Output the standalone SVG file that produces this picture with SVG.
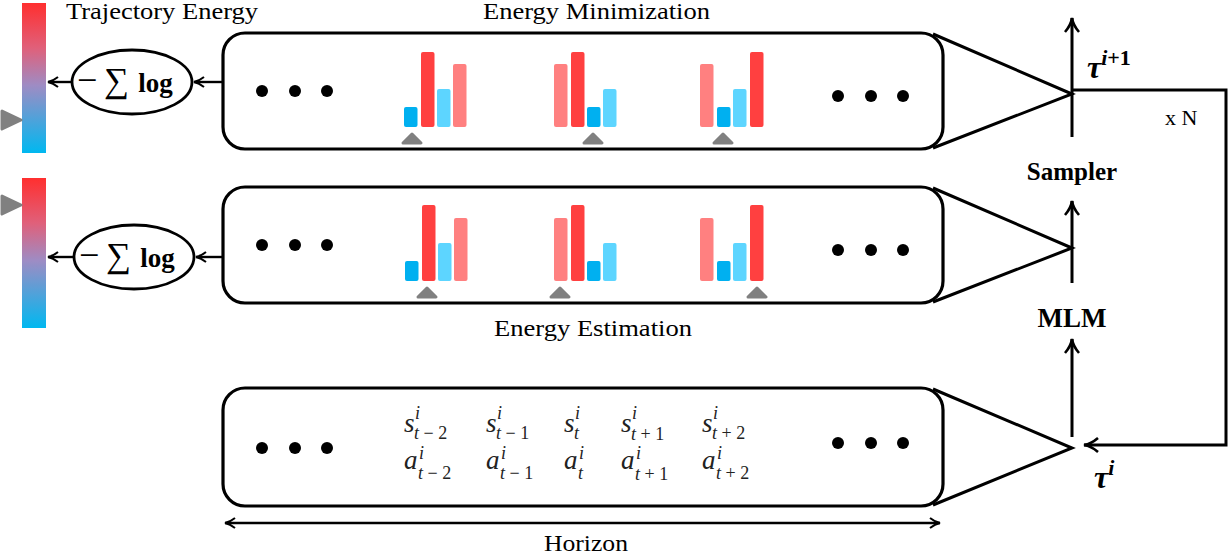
<svg xmlns="http://www.w3.org/2000/svg" width="1232" height="554" viewBox="0 0 1232 554">
<style>
.box{fill:none;stroke:#000;stroke-width:3.2}
.ln{fill:none;stroke:#000;stroke-width:3}
.ar{fill:none;stroke:#000;stroke-width:2.4}
.t{font-family:"Liberation Serif",serif;fill:#000}
.m{font-family:"Liberation Serif",serif;font-style:italic;fill:#222}
.up{font-style:normal}
.b{font-weight:bold}
.dot{fill:#000}
.r{fill:#FF4040}.p{fill:#FF8080}.bl{fill:#00B0F0}.lb{fill:#5DD5FF}
.tri{fill:#808080;stroke:#808080;stroke-width:3;stroke-linejoin:round}
</style>
<defs>
<linearGradient id="grad" x1="0" y1="0" x2="0" y2="1">
<stop offset="0" stop-color="#FF2F2F"/>
<stop offset="0.3" stop-color="#E0607A"/>
<stop offset="0.55" stop-color="#9E8CC4"/>
<stop offset="1" stop-color="#00B8F0"/>
</linearGradient>
<marker id="ah" viewBox="0 0 12 12" refX="11" refY="6" markerWidth="12" markerHeight="12" markerUnits="userSpaceOnUse" orient="auto-start-reverse">
<path d="M1,1 Q6,5 11,6 Q6,7 1,11" fill="none" stroke="#000" stroke-width="2"/>
</marker>
<marker id="ahb" viewBox="0 0 16 16" refX="15" refY="8" markerWidth="16" markerHeight="16" markerUnits="userSpaceOnUse" orient="auto-start-reverse">
<path d="M1,1 Q8,7 15,8 Q8,9 1,15" fill="none" stroke="#000" stroke-width="2.6"/>
</marker>
</defs>

<!-- energy bars -->
<g id="energy-bar-top">
<rect x="22" y="3" width="24" height="150" fill="url(#grad)"/>
<path class="tri" d="M2,111 L21,120 L2,129 Z"/>
</g>
<g id="energy-bar-mid">
<rect x="22" y="178" width="24" height="150" fill="url(#grad)"/>
<path class="tri" d="M2,196 L21,205 L2,214 Z"/>
</g>

<!-- labels -->
<text class="t" x="66" y="19" font-size="24" textLength="192" lengthAdjust="spacingAndGlyphs">Trajectory Energy</text>
<text class="t" x="483" y="19" font-size="24" textLength="227" lengthAdjust="spacingAndGlyphs">Energy Minimization</text>
<text class="t" x="494" y="336" font-size="24" textLength="198" lengthAdjust="spacingAndGlyphs">Energy Estimation</text>
<text class="t" x="544" y="551" font-size="24" textLength="84" lengthAdjust="spacingAndGlyphs">Horizon</text>

<!-- ellipses -->
<g id="sumlog-top">
<ellipse cx="132" cy="82" rx="60" ry="32" fill="#fff" stroke="#000" stroke-width="2.8"/>
<text class="t" x="77" y="92" font-size="27"><tspan font-size="36">−</tspan><tspan font-size="35" dx="7">∑</tspan><tspan class="b" dx="9">log</tspan></text>
</g>
<g id="sumlog-mid">
<ellipse cx="134" cy="257" rx="60" ry="32" fill="#fff" stroke="#000" stroke-width="2.8"/>
<text class="t" x="79" y="267" font-size="27"><tspan font-size="36">−</tspan><tspan font-size="35" dx="7">∑</tspan><tspan class="b" dx="9">log</tspan></text>
</g>

<!-- top box -->
<g id="box-top">
<rect class="box" x="223" y="33" width="720" height="116" rx="22"/>
<circle class="dot" cx="262" cy="91" r="6"/><circle class="dot" cx="295" cy="91" r="6"/><circle class="dot" cx="327" cy="91" r="6"/>
<circle class="dot" cx="838" cy="96" r="6"/><circle class="dot" cx="871" cy="96" r="6"/><circle class="dot" cx="903" cy="96" r="6"/>
<rect class="bl" x="404" y="107" width="13.5" height="20" rx="2"/>
<rect class="r" x="421" y="52" width="13.5" height="75" rx="2"/>
<rect class="lb" x="437" y="89" width="13.5" height="38" rx="2"/>
<rect class="p" x="453" y="64" width="13.5" height="63" rx="2"/>
<path class="tri" d="M403,143 L412,134 L421,143 Z"/>
<rect class="p" x="554" y="64" width="13.5" height="63" rx="2"/>
<rect class="r" x="571" y="52" width="13.5" height="75" rx="2"/>
<rect class="bl" x="587" y="107" width="13.5" height="20" rx="2"/>
<rect class="lb" x="603" y="89" width="13.5" height="38" rx="2"/>
<path class="tri" d="M584,143 L593,134 L602,143 Z"/>
<rect class="p" x="700" y="64" width="13.5" height="63" rx="2"/>
<rect class="bl" x="717" y="107" width="13.5" height="20" rx="2"/>
<rect class="lb" x="733" y="89" width="13.5" height="38" rx="2"/>
<rect class="r" x="750" y="52" width="13.5" height="75" rx="2"/>
<path class="tri" d="M714,143 L723,134 L732,143 Z"/>
</g>

<!-- middle box -->
<g id="box-mid">
<rect class="box" x="223" y="187" width="720" height="116" rx="22"/>
<circle class="dot" cx="262" cy="245" r="6"/><circle class="dot" cx="295" cy="245" r="6"/><circle class="dot" cx="327" cy="245" r="6"/>
<circle class="dot" cx="838" cy="250" r="6"/><circle class="dot" cx="871" cy="250" r="6"/><circle class="dot" cx="903" cy="250" r="6"/>
<rect class="bl" x="405" y="261" width="13.5" height="20" rx="2"/>
<rect class="r" x="422" y="205" width="13.5" height="76" rx="2"/>
<rect class="lb" x="438" y="243" width="13.5" height="38" rx="2"/>
<rect class="p" x="454" y="218" width="13.5" height="63" rx="2"/>
<path class="tri" d="M418,297 L427,288 L436,297 Z"/>
<rect class="p" x="554" y="218" width="13.5" height="63" rx="2"/>
<rect class="r" x="571" y="205" width="13.5" height="76" rx="2"/>
<rect class="bl" x="587" y="261" width="13.5" height="20" rx="2"/>
<rect class="lb" x="603" y="243" width="13.5" height="38" rx="2"/>
<path class="tri" d="M551,297 L560,288 L569,297 Z"/>
<rect class="p" x="700" y="218" width="13.5" height="63" rx="2"/>
<rect class="bl" x="717" y="261" width="13.5" height="20" rx="2"/>
<rect class="lb" x="733" y="243" width="13.5" height="38" rx="2"/>
<rect class="r" x="750" y="205" width="13.5" height="76" rx="2"/>
<path class="tri" d="M748,297 L757,288 L766,297 Z"/>
</g>

<!-- bottom box -->
<g id="box-bottom">
<rect class="box" x="223" y="388" width="720" height="118" rx="22"/>
<circle class="dot" cx="262" cy="448" r="6"/><circle class="dot" cx="295" cy="448" r="6"/><circle class="dot" cx="327" cy="448" r="6"/>
<circle class="dot" cx="838" cy="443" r="6"/><circle class="dot" cx="871" cy="443" r="6"/><circle class="dot" cx="903" cy="443" r="6"/>
<g class="m" font-size="27">
<text x="404" y="432">s<tspan font-size="18" x="415" y="419">i</tspan><tspan font-size="18" x="414" y="439">t<tspan class="up"> − 2</tspan></tspan></text>
<text x="486" y="432">s<tspan font-size="18" x="497" y="419">i</tspan><tspan font-size="18" x="496" y="439">t<tspan class="up"> − 1</tspan></tspan></text>
<text x="564" y="432">s<tspan font-size="18" x="575" y="419">i</tspan><tspan font-size="18" x="574" y="439">t</tspan></text>
<text x="621" y="432">s<tspan font-size="18" x="632" y="419">i</tspan><tspan font-size="18" x="631" y="440">t<tspan class="up"> + 1</tspan></tspan></text>
<text x="702" y="432">s<tspan font-size="18" x="713" y="419">i</tspan><tspan font-size="18" x="712" y="439">t<tspan class="up"> + 2</tspan></tspan></text>
<text x="404" y="469">a<tspan font-size="18" x="419" y="459">i</tspan><tspan font-size="18" x="418" y="479">t<tspan class="up"> − 2</tspan></tspan></text>
<text x="486" y="469">a<tspan font-size="18" x="501" y="459">i</tspan><tspan font-size="18" x="500" y="479">t<tspan class="up"> − 1</tspan></tspan></text>
<text x="564" y="469">a<tspan font-size="18" x="579" y="459">i</tspan><tspan font-size="18" x="578" y="479">t</tspan></text>
<text x="621" y="469">a<tspan font-size="18" x="636" y="459">i</tspan><tspan font-size="18" x="635" y="480">t<tspan class="up"> + 1</tspan></tspan></text>
<text x="702" y="469">a<tspan font-size="18" x="717" y="459">i</tspan><tspan font-size="18" x="716" y="479">t<tspan class="up"> + 2</tspan></tspan></text>
</g>
</g>

<!-- right side labels -->
<g id="tau-next">
<text class="t b" x="1087" y="78" font-size="32" font-style="italic">τ<tspan font-size="22" dy="-13">i</tspan><tspan font-size="22" font-style="normal">+1</tspan></text>
</g>
<g id="tau-i">
<text class="t b" x="1094" y="488" font-size="32" font-style="italic">τ<tspan font-size="22" dy="-13">i</tspan></text>
</g>
<text class="t" x="1165" y="125" font-size="22">x N</text>
<g id="sampler"><text class="t b" x="1072" y="180" font-size="25" text-anchor="middle">Sampler</text></g>
<g id="mlm"><text class="t b" x="1072" y="327" font-size="27" text-anchor="middle">MLM</text></g>

<!-- connectors -->
<g id="connectors">
<line class="ar" x1="223" y1="82" x2="194" y2="82" marker-end="url(#ah)"/>
<line class="ar" x1="72" y1="82" x2="48" y2="82" marker-end="url(#ah)"/>
<line class="ar" x1="223" y1="257" x2="196" y2="257" marker-end="url(#ah)"/>
<line class="ar" x1="74" y1="257" x2="48" y2="257" marker-end="url(#ah)"/>
<polyline class="ln" points="933,34 1072,94 933,148"/>
<polyline class="ln" points="933,188 1072,248 933,302"/>
<polyline class="ln" points="933,389 1072,448 933,505"/>
<line class="ln" x1="1072" y1="137" x2="1072" y2="18" marker-end="url(#ahb)"/>
<line class="ln" x1="1072" y1="283" x2="1072" y2="201" marker-end="url(#ahb)"/>
<line class="ln" x1="1072" y1="437" x2="1072" y2="339" marker-end="url(#ahb)"/>
<polyline class="ln" points="1072,90 1226,90 1226,445 1084,445" marker-end="url(#ahb)"/>
<line class="ar" x1="225" y1="523" x2="940" y2="523" marker-start="url(#ah)" marker-end="url(#ah)"/>
</g>
</svg>
